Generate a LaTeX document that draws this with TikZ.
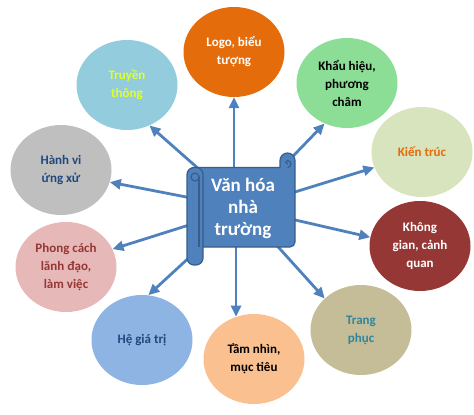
\documentclass[tikz,border=0pt]{standalone}
\usepackage{fontspec}
\setmainfont{Carlito}
\usetikzlibrary{shapes.geometric,arrows.meta,backgrounds}

\definecolor{arrowblue}{HTML}{4F81BD}
\definecolor{scrollblue}{HTML}{4F81BD}
\definecolor{scrolledge}{HTML}{385D8A}
\definecolor{logoorange}{HTML}{E46C0A}
\definecolor{ttblue}{HTML}{93CDDD}
\definecolor{ttyellow}{RGB}{225,255,40}
\definecolor{khgreen}{RGB}{140,222,150}
\definecolor{ktbeige}{HTML}{D7E4BD}
\definecolor{hvgray}{HTML}{BFBFBF}
\definecolor{darkblue}{HTML}{1F497D}
\definecolor{kgred}{HTML}{953735}
\definecolor{pcpink}{HTML}{E6B9B8}
\definecolor{gtblue}{HTML}{8EB4E3}
\definecolor{tnpeach}{HTML}{FAC090}
\definecolor{tptan}{HTML}{C4BD97}
\definecolor{tpteal}{HTML}{31859C}

\tikzset{
  bubble/.style={ellipse, minimum width=101pt, minimum height=90pt, inner sep=0pt,
    align=center, font=\bfseries\fontsize{13}{18}\selectfont},
  arr/.style={-{Triangle[length=11pt,width=10pt]}, line width=2.8pt, draw=arrowblue},
  scrollpart/.style={fill=scrollblue, draw=scrolledge, line width=1.2pt, line join=round}
}

\begin{document}
\begin{tikzpicture}[x=1pt, y=-1pt]
  \useasboundingbox (0,0) rectangle (474,415);
  % the ten topics round the scroll
  \node[bubble, fill=logoorange, text=white] (logo) at (234,52) {Logo, biểu\\tượng};
  \node[bubble, fill=ttblue, text=ttyellow] (tt) at (127,85) {Truyền\\thông};
  \node[bubble, fill=khgreen, text=black] (kh) at (347,83) {Khẩu hiệu,\\phương\\châm};
  \node[bubble, fill=ktbeige, text=logoorange] (kt) at (422,152) {Kiến trúc};
  \node[bubble, fill=hvgray, text=darkblue] (hv) at (61,170) {Hành vi\\ứng xử};
  \node[bubble, fill=kgred, text=white] (kg) at (420,246) {Không\\gian, cảnh\\quan};
  \node[bubble, fill=pcpink, text=kgred] (pc) at (66,267) {Phong cách\\lãnh đạo,\\làm việc};
  \node[bubble, fill=gtblue, text=darkblue] (gt) at (142,340) {Hệ giá trị};
  \node[bubble, fill=tnpeach, text=black] (tn) at (254,359) {Tầm nhìn,\\mục tiêu};
  \node[bubble, fill=tptan, text=tpteal] (tp) at (361,330) {Trang\\phục};

  % scroll
  \draw[scrollpart] (195,167.5) -- (280,167.5) -- (280,160.5)
    arc[start angle=180, end angle=0, radius=7.5pt] -- (295,242)
    arc[start angle=0, end angle=-90, radius=5pt] -- (195,247) -- cycle;
  \draw[scrollpart] (287.5,167.5) arc[start angle=-90, end angle=90, radius=3.5pt]
    arc[start angle=90, end angle=270, radius=1.75pt];
  \draw[scrollpart, rounded corners=7pt] (187,167.5) rectangle (203,265);
  \draw[scrollpart] (195,177) circle[radius=4pt];
  \draw[scrolledge, line width=1.2pt] (199,177) -- (199,247);
  \node[text=white, align=center, font=\bfseries\fontsize{19}{22}\selectfont] (vh) at (243,208) {Văn hóa\\nhà\\trường};

  \begin{pgfonlayer}{background}
    \draw[arr] (logo.south |- vh.center) -- (logo.south);
    \draw[arr] (vh.center) -- (tt.-61);
    \draw[arr] (vh.center) -- (kh.241);
    \draw[arr] (vh.center) -- (kt.198);
    \draw[arr] (vh.center) -- (hv.-14);
    \draw[arr] (vh.center) -- (kg.170);
    \draw[arr] (vh.center) -- (pc.21);
    \draw[arr] (vh.center) -- (gt.82);
    \draw[arr] (tn.113 |- vh.center) -- (tn.113);
    \draw[arr] (vh.center) -- (tp.139);
  \end{pgfonlayer}
\end{tikzpicture}
\end{document}
